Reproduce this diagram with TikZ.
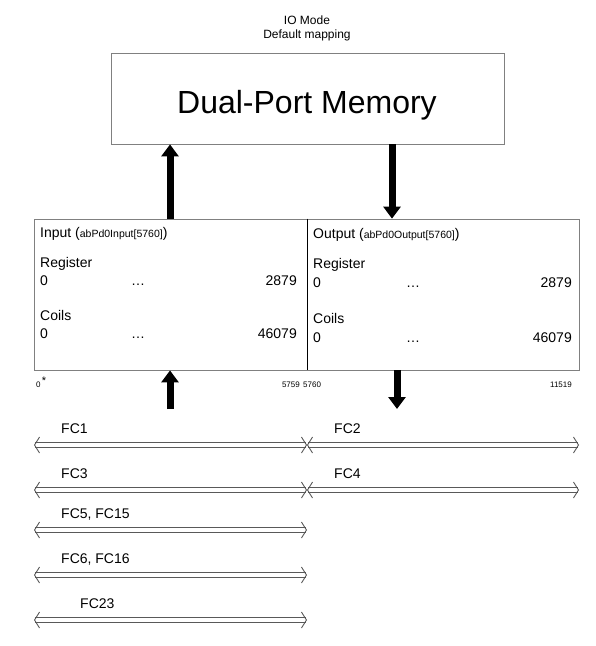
\documentclass[tikz,border=0pt]{standalone}
\usepackage{fontspec}
\setmainfont{Liberation Sans}
\usetikzlibrary{arrows.meta,
	positioning,
	calc}
\tikzstyle{mem}=[draw=black!50, line width=0.8pt, minimum width=393pt, minimum height=91pt, inner sep=0]
\tikzstyle{half}=[draw=black!50, line width=0.8pt, minimum height=151pt, inner sep=0]
\tikzstyle{lbl}=[anchor=base west, inner sep=0, font=\fontsize{14}{16}\selectfont]
\tikzstyle{lblr}=[anchor=base east, inner sep=0, font=\fontsize{14}{16}\selectfont]
\tikzstyle{tiny}=[inner sep=0, font=\fontsize{8}{9}\selectfont]
\tikzstyle{flow}=[line width=7pt, -{Triangle[length=12pt,width=17pt]}]
\tikzstyle{fc}=[draw=black!65, line width=0.9pt, double=white, double distance=4.5pt,
	{Straight Barb[length=5pt,width=16pt,line width=0.9pt]}-{Straight Barb[length=5pt,width=16pt,line width=0.9pt]}]
\newcommand{\sm}[1]{{\fontsize{10.5}{12}\selectfont #1}}

\begin{document}
\begin{tikzpicture}[x=1pt, y=-1pt]
\useasboundingbox (0,0) rectangle (596,646);
\node[inner sep=0, font=\fontsize{12}{14}\selectfont, anchor=base] (mode) at (307,24) {IO Mode};
\node[inner sep=0, font=\fontsize{12}{14}\selectfont, anchor=base] (map) at (307,38) {Default mapping};
\node[mem] (dpm) at (307.5,98.5) {};
\node[inner sep=0, font=\fontsize{32}{36}\selectfont, anchor=base] (dpmt) at (307,113) {Dual-Port Memory};

\node[half, minimum width=273pt] (inbox) at (170.5,294.5) {};
\node[half, minimum width=272pt] (outbox) at (443,294.5) {};
\draw[line width=0.9pt] (inbox.north east) -- (inbox.south east);

% input side
\node[lbl] (inp) at (40,237) {Input (\sm{abPd0Input[5760]})};
\node[lbl] (inreg) at (40,267) {Register};
\node[lbl] (inr0) at (40,285) {0};
\node[lbl] (inrd) at (131,285) {\dots};
\node[lblr] (inrn) at (297,285) {2879};
\node[lbl] (incoil) at (40,320) {Coils};
\node[lbl] (inc0) at (40,338) {0};
\node[lbl] (incd) at (131,338) {\dots};
\node[lblr] (incn) at (297,338) {46079};

% output side
\node[lbl] (outp) at (313,238) {Output (\sm{abPd0Output[5760]})};
\node[lbl] (outreg) at (313,268) {Register};
\node[lbl] (outr0) at (313,287) {0};
\node[lbl] (outrd) at (406,287) {\dots};
\node[lblr] (outrn) at (572,287) {2879};
\node[lbl] (outcoil) at (313,323) {Coils};
\node[lbl] (outc0) at (313,342) {0};
\node[lbl] (outcd) at (406,342) {\dots};
\node[lblr] (outcn) at (572,342) {46079};

\node[tiny, anchor=base west] (a0) at (36,387) {0\,\raisebox{2.5pt}{\fontsize{11}{11}\selectfont *}};
\node[tiny, anchor=base east] (a1) at (300,387) {5759};
\node[tiny, anchor=base west] (a2) at (303,387) {5760};
\node[tiny, anchor=base east] (a3) at (572,387) {11519};

\coordinate (upx) at (170,0);
\coordinate (dnx) at (392,0);
\coordinate (inlow) at (170,409);
\coordinate (outlow) at (397,409);
\draw[flow] (inbox.north -| upx) -- (dpm.south -| upx);
\draw[flow] (dpm.south -| dnx) -- (outbox.north -| dnx);
\draw[flow] (inlow) -- (inbox.south -| inlow);
\draw[flow] (outbox.south -| outlow) -- (outlow);

\foreach \r/\y in {1/445,2/490,3/530,4/575,5/620}{
	\coordinate (l\r) at (34,\y);
	\coordinate (m\r) at (307,\y);
	\coordinate (r\r) at (579,\y);
}
\draw[fc] (l1) -- (m1);
\draw[fc] (m1) -- (r1);
\draw[fc] (l2) -- (m2);
\draw[fc] (m2) -- (r2);
\draw[fc] (l3) -- (m3);
\draw[fc] (l4) -- (m4);
\draw[fc] (l5) -- (m5);

\node[lbl] (fc1) at (61,433) {FC1};
\node[lbl] (fc2) at (334,433) {FC2};
\node[lbl] (fc3) at (61,478) {FC3};
\node[lbl] (fc4) at (334,478) {FC4};
\node[lbl] (fc5) at (61,518) {FC5, FC15};
\node[lbl] (fc6) at (61,563) {FC6, FC16};
\node[lbl] (fc23) at (80,608) {FC23};
\end{tikzpicture}
\end{document}
